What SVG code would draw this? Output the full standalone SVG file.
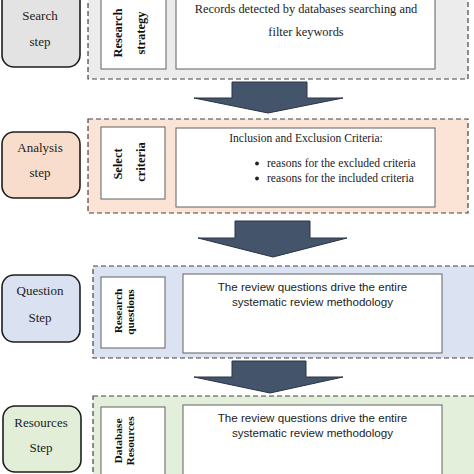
<svg xmlns="http://www.w3.org/2000/svg" width="474" height="474" viewBox="0 0 474 474">
<defs>
<style>
.step{stroke:#1e1e1e;stroke-width:1.6}
.cont{stroke:#444;stroke-width:1.2;stroke-dasharray:5 3}
.inner{fill:#fff;stroke:#6e6e6e;stroke-width:1.1}
.lbl{font-family:"Liberation Serif","Times New Roman",serif;font-size:13px;fill:#222;text-anchor:middle}
.vt{font-family:"Liberation Serif","Times New Roman",serif;font-weight:bold;font-size:12.5px;fill:#111;text-anchor:middle}
.vt2{font-family:"Liberation Serif","Times New Roman",serif;font-weight:bold;font-size:11.4px;fill:#111;text-anchor:middle}
.body{font-family:"Liberation Serif","Times New Roman",serif;font-size:12.4px;fill:#222;text-anchor:middle}
.body2{font-family:"Liberation Serif","Times New Roman",serif;font-size:11.6px;fill:#222}
.sans{font-family:"Liberation Sans",Arial,sans-serif;font-size:11.6px;fill:#222;text-anchor:middle}
.arrow{fill:#44546a;stroke:#2a3344;stroke-width:1}
</style>
</defs>

<g id="search">
<rect class="cont" x="88" y="-10" width="380" height="89" fill="#ececec"/>
<rect class="step" x="2" y="-12" width="78" height="79" rx="12" fill="#e3e3e3"/>
<text class="lbl" x="40" y="20">Search</text>
<text class="lbl" x="40" y="46">step</text>
<rect class="inner" x="101" y="-5" width="65" height="74"/>
<text class="vt" transform="translate(122,33) rotate(-90)">Research</text>
<text class="vt" transform="translate(145,33) rotate(-90)">strategy</text>
<rect class="inner" x="176" y="-5" width="259" height="74"/>
<text class="body" x="306" y="13">Records detected by databases searching and</text>
<text class="body" x="306" y="36">filter keywords</text>
</g>

<g id="analysis">
<rect class="cont" x="88" y="119" width="380" height="94" fill="#fbe4d6"/>
<rect class="step" x="2" y="132" width="78" height="66" rx="12" fill="#f8dccc"/>
<text class="lbl" x="40" y="152">Analysis</text>
<text class="lbl" x="40" y="177">step</text>
<rect class="inner" x="101" y="127" width="64" height="72"/>
<text class="vt" transform="translate(122,164) rotate(-90)">Select</text>
<text class="vt" transform="translate(145,162) rotate(-90)">criteria</text>
<rect class="inner" x="176" y="128" width="259" height="79"/>
<text class="body2" x="306" y="142" text-anchor="middle">Inclusion and Exclusion Criteria:</text>
<circle cx="257" cy="163.5" r="1.9" fill="#222"/>
<circle cx="257" cy="178.5" r="1.9" fill="#222"/>
<text class="body2" x="267" y="167">reasons for the excluded criteria</text>
<text class="body2" x="267" y="182">reasons for the included criteria</text>
</g>

<g id="question">
<rect class="cont" x="93" y="266" width="384" height="92" fill="#dbe3f2"/>
<rect class="step" x="2" y="275" width="78" height="67" rx="12" fill="#dae1f0"/>
<text class="lbl" x="40" y="295">Question</text>
<text class="lbl" x="40" y="322">Step</text>
<rect class="inner" x="101" y="277" width="64" height="71"/>
<text class="vt2" transform="translate(122,311) rotate(-90)">Research</text>
<text class="vt2" transform="translate(134,312) rotate(-90)">questions</text>
<rect class="inner" x="183" y="274" width="259" height="79" stroke="#888"/>
<text class="sans" x="312.5" y="290.7">The review questions drive the entire</text>
<text class="sans" x="312.5" y="305.7">systematic review methodology</text>
</g>

<g id="resources">
<rect class="cont" x="93" y="396" width="384" height="90" fill="#e3efda"/>
<rect class="step" x="3" y="406" width="78" height="66" rx="12" fill="#e2eed8"/>
<text class="lbl" x="41" y="427">Resources</text>
<text class="lbl" x="41" y="452">Step</text>
<rect class="inner" x="101" y="407" width="64" height="80"/>
<text class="vt2" transform="translate(122,441) rotate(-90)">Database</text>
<text class="vt2" transform="translate(134,441) rotate(-90)">Resources</text>
<rect class="inner" x="183" y="405" width="259" height="80" stroke="#888"/>
<text class="sans" x="312.5" y="422">The review questions drive the entire</text>
<text class="sans" x="312.5" y="437">systematic review methodology</text>
</g>

<g id="connectors">
<polygon class="arrow" points="232,82 307,82 307,98 343,98 268,113 194,98 232,98"/>
<polygon class="arrow" points="235,221 310,221 310,238 347,238 273,257 198,238 235,238"/>
<polygon class="arrow" points="232,361 306,361 306,377 343,377 270,393 194,377 232,377"/>
</g>
</svg>
